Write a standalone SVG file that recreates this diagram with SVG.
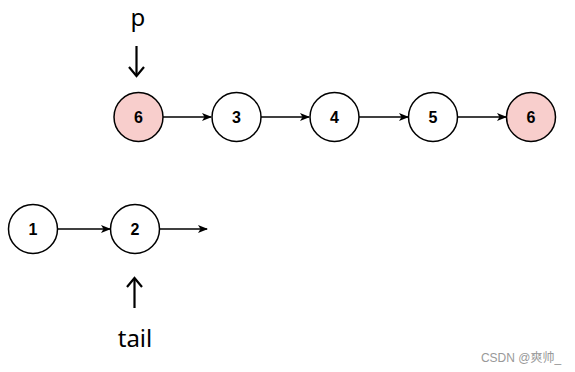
<svg xmlns="http://www.w3.org/2000/svg" width="575" height="372" viewBox="0 0 575 372">
<style>
.n{fill:#fff;stroke:#000;stroke-width:1.5}
.h{fill:#f8cecc}
.t{font-family:"Liberation Sans",Arial,sans-serif;font-weight:bold;font-size:16px;text-anchor:middle;fill:#000}
.c{stroke:#000;stroke-width:1.3;fill:none;marker-end:url(#a)}
.lbl{font-family:"Noto Sans","Open Sans",sans-serif;font-size:24px;text-anchor:middle;fill:#000}
.ptr{stroke:#000;stroke-width:2.2;fill:none}
</style>
<defs>
<marker id="a" markerWidth="10" markerHeight="8" refX="9" refY="4" orient="auto" markerUnits="userSpaceOnUse">
<path d="M0,0 L10,4 L0,8 L2.5,4 Z" fill="#000"/>
</marker>
</defs>
<rect width="575" height="372" fill="#fff"/>
<g id="connectors">
<line class="c" x1="163" y1="117" x2="211" y2="117"/>
<line class="c" x1="261" y1="117" x2="309" y2="117"/>
<line class="c" x1="359" y1="117" x2="408" y2="117"/>
<line class="c" x1="458" y1="117" x2="506" y2="117"/>
<line class="c" x1="58" y1="229" x2="110" y2="229"/>
<line class="c" x1="160" y1="229" x2="207" y2="229"/>
</g>
<g id="node-p6"><circle class="n h" cx="138.5" cy="117" r="24.5"/><text class="t" x="138.5" y="123">6</text></g>
<g id="node-3"><circle class="n" cx="236.5" cy="117" r="24.5"/><text class="t" x="236.5" y="123">3</text></g>
<g id="node-4"><circle class="n" cx="334.5" cy="117" r="24.5"/><text class="t" x="334.5" y="123">4</text></g>
<g id="node-5"><circle class="n" cx="433" cy="117" r="24.5"/><text class="t" x="433" y="123">5</text></g>
<g id="node-6"><circle class="n h" cx="531" cy="117" r="24.5"/><text class="t" x="531" y="123">6</text></g>
<g id="node-1"><circle class="n" cx="33" cy="229" r="24.5"/><text class="t" x="33" y="235">1</text></g>
<g id="node-2"><circle class="n" cx="135" cy="229" r="24.5"/><text class="t" x="135" y="235">2</text></g>
<g id="pointer-p">
<text class="lbl" x="138" y="26">p</text>
<path class="ptr" d="M136.5,46 V75"/>
<path class="ptr" d="M129,67 L136.5,76 L144,67"/>
</g>
<g id="pointer-tail">
<text class="lbl" x="135" y="347">tail</text>
<path class="ptr" d="M134.5,308 V279"/>
<path class="ptr" d="M127,287 L134.5,278 L142,287"/>
</g>
<text x="521" y="362" font-family="'Liberation Sans','Noto Sans CJK SC',sans-serif" font-size="12" fill="#999" text-anchor="middle">CSDN @爽帅_</text>
</svg>
